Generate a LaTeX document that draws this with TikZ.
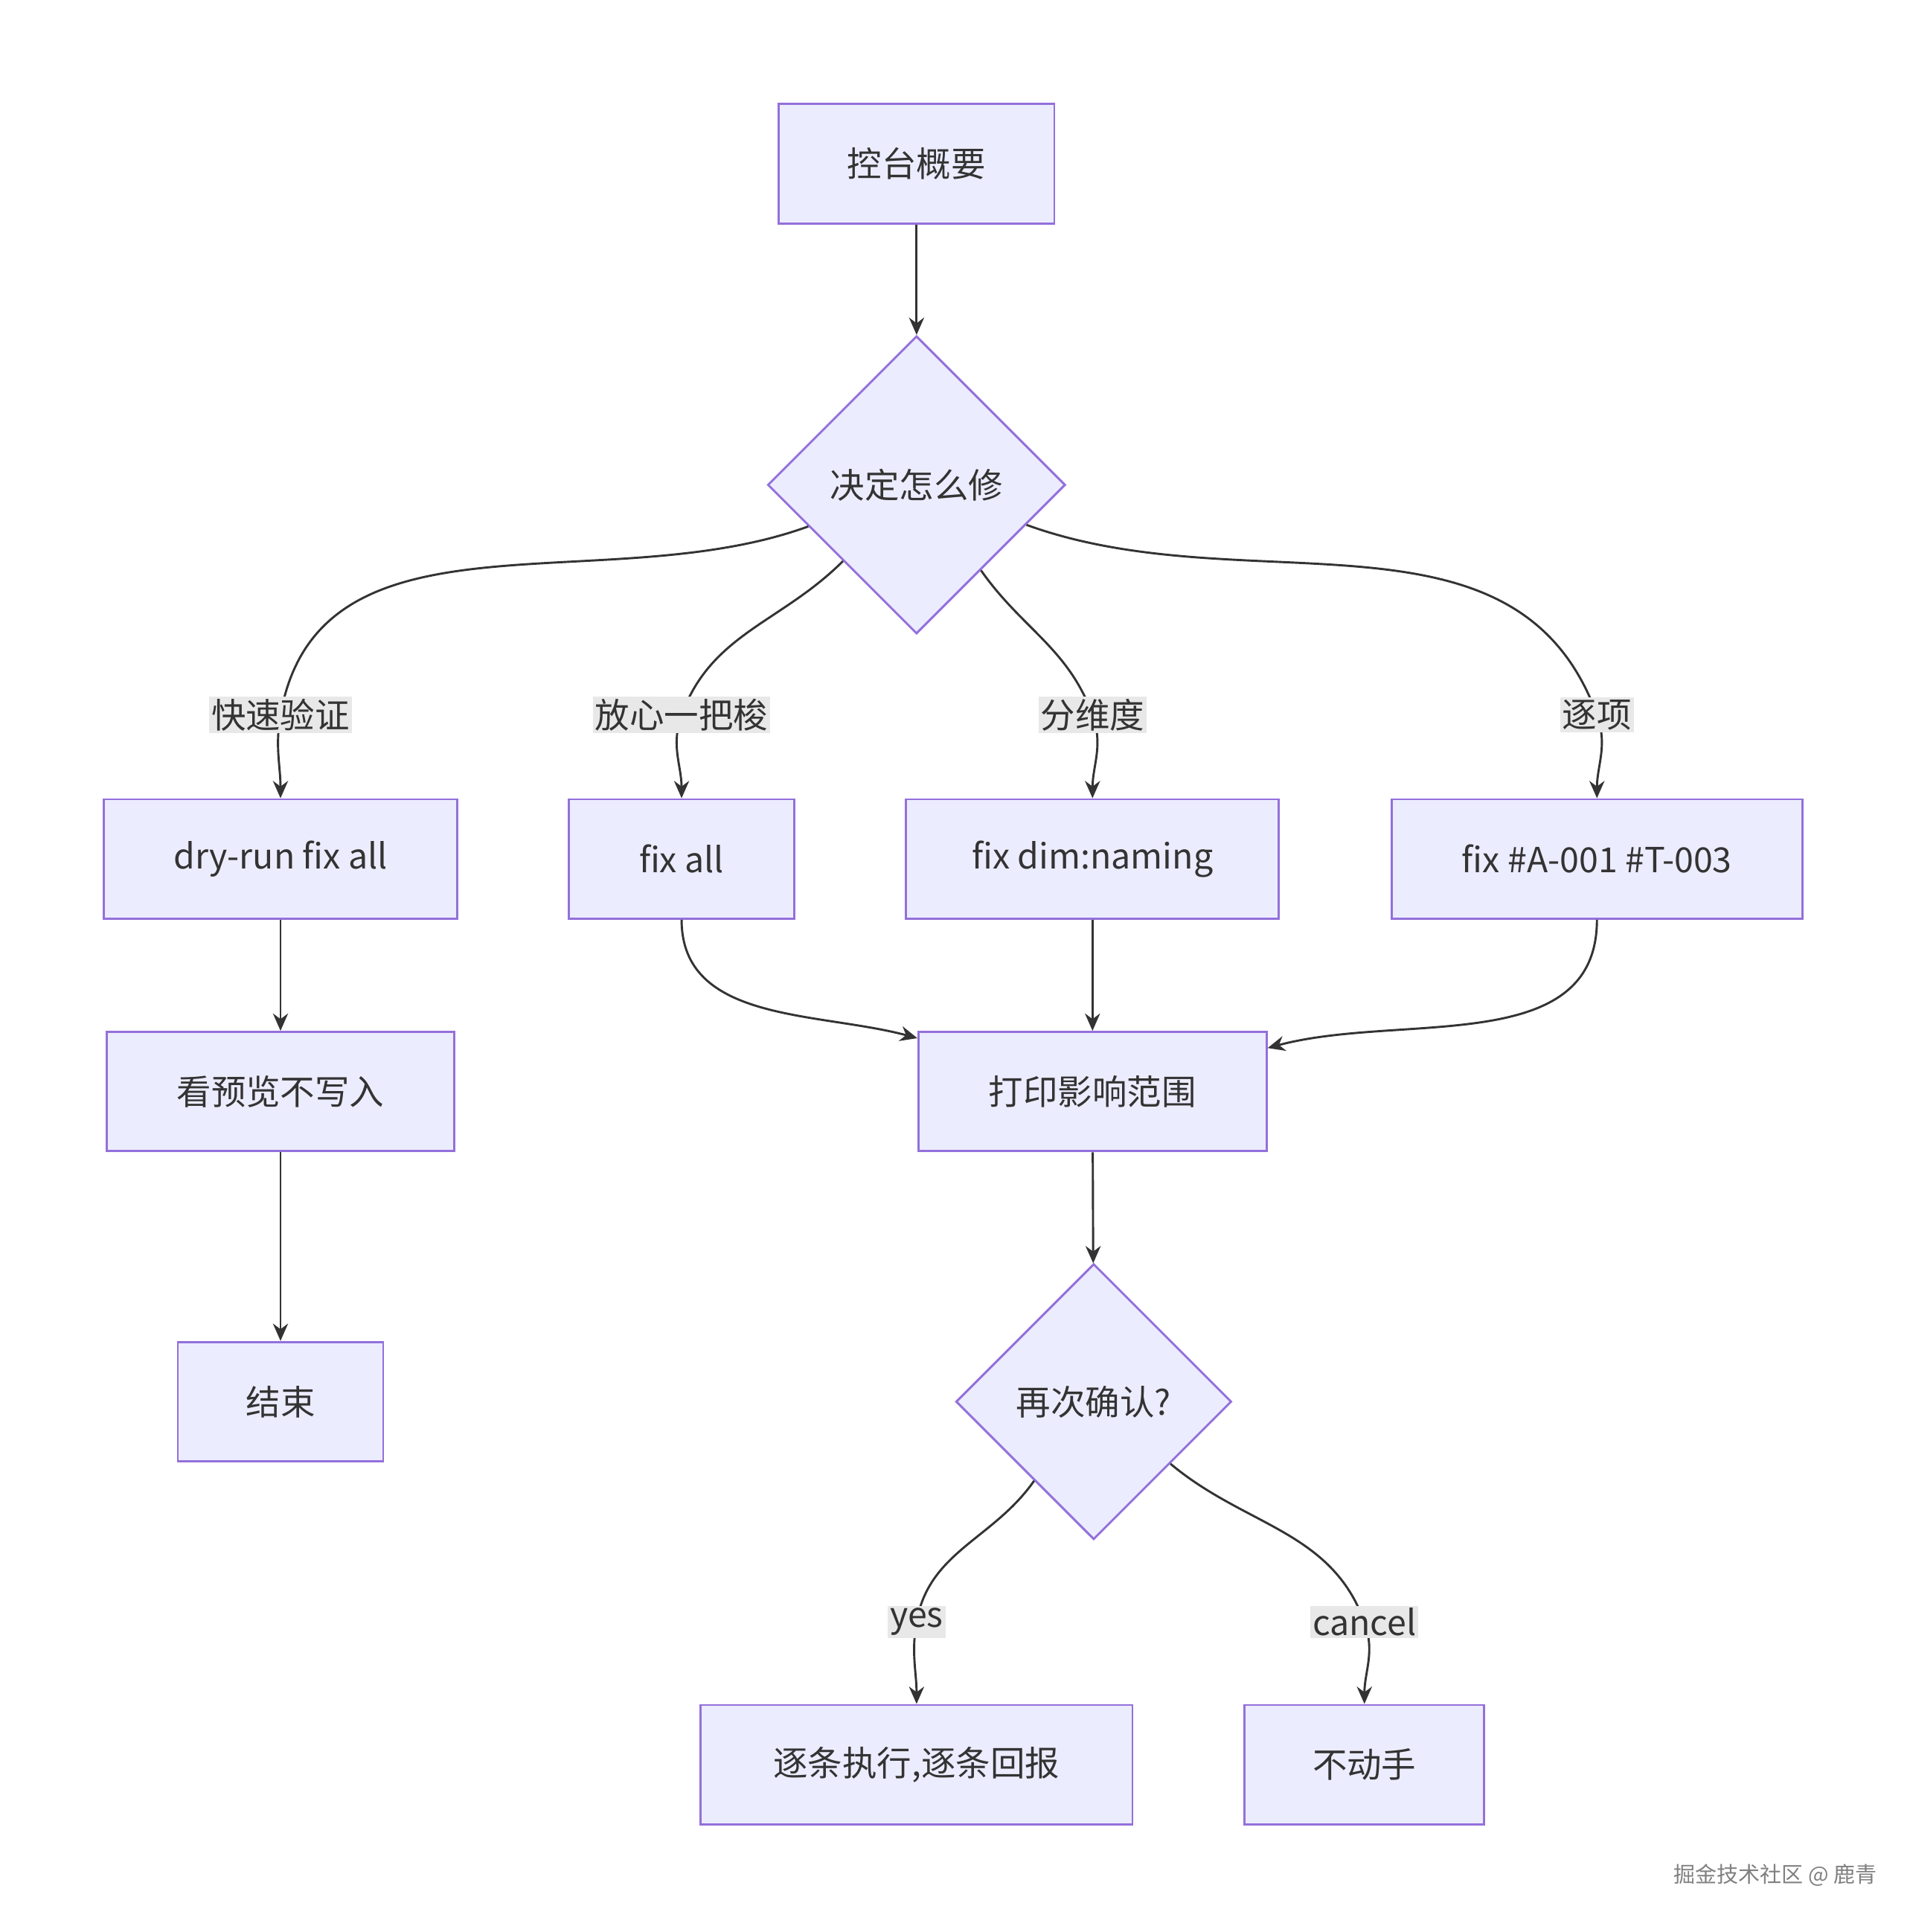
\documentclass[tikz,border=0pt]{standalone}
\usepackage{fontspec}
\setmainfont{Noto Sans CJK SC}
\usetikzlibrary{shapes.geometric,arrows.meta,positioning}
\definecolor{boxfill}{HTML}{ECECFF}
\definecolor{boxdraw}{HTML}{9370DB}
\definecolor{linecol}{HTML}{333333}
\definecolor{lblfill}{HTML}{E8E8E8}

\begin{document}
\begin{tikzpicture}[
    x=0.02cm, y=-0.02cm,
    font=\fontsize{16}{19}\selectfont,
    box/.style={rectangle, draw=boxdraw, fill=boxfill, line width=1pt, minimum height=1.94cm, text=linecol},
    choice/.style={diamond, draw=boxdraw, fill=boxfill, line width=1pt, aspect=1, inner sep=0pt, text=linecol},
    lbl/.style={fill=lblfill, inner sep=1pt, text=linecol},
    line/.style={draw=linecol, line width=1pt, -{Stealth[length=8pt,width=7pt]}}
]
    \useasboundingbox (0,0) rectangle (1552,1570);
    \node[box, minimum width=4.48cm] (start) at (745,133) {控台概要};
    \node[choice, minimum size=4.84cm] (decide) at (745,394) {决定怎么修};
    \node[box, minimum width=5.74cm] (dryrun) at (228,698) {dry-run fix all};
    \node[box, minimum width=3.66cm] (fixall) at (554,698) {fix all};
    \node[box, minimum width=6.06cm] (fixdim) at (888,698) {fix dim:naming};
    \node[box, minimum width=6.68cm] (fixitem) at (1298,698) {fix \#A-001 \#T-003};
    \node[box, minimum width=5.66cm] (preview) at (228,887) {看预览不写入};
    \node[box, minimum width=5.66cm] (scope) at (888,887) {打印影响范围};
    \node[box, minimum width=3.34cm] (finish) at (228,1139) {结束};
    \node[choice, minimum size=4.48cm] (confirm) at (889,1139) {再次确认?};
    \node[box, minimum width=7.02cm] (run) at (745,1434) {逐条执行,逐条回报};
    \node[box, minimum width=3.9cm] (abort) at (1109,1434) {不动手};

    \coordinate (quick) at (228,581);
    \coordinate (bold) at (554,581);
    \coordinate (dims) at (888,581);
    \coordinate (each) at (1298,581);
    \coordinate (yes) at (745,1318);
    \coordinate (cancel) at (1109,1318);

    \draw[line] (start) -- (decide);
    \draw[line] (decide.201) to[out=200,in=80] (quick) to[out=-100,in=90] (dryrun.north);
    \draw[line] (decide.226) to[out=225,in=70] (bold) to[out=-110,in=90] (fixall.north);
    \draw[line] (decide.307) to[out=-55,in=110] (dims) to[out=-70,in=90] (fixdim.north);
    \draw[line] (decide.340) to[out=-20,in=110] (each) to[out=-70,in=90] (fixitem.north);
    \draw[line] (dryrun) -- (preview);
    \draw[line] (preview) -- (finish);
    \draw[line] (fixall.south) to[out=-90,in=165] ([yshift=-0.12cm]scope.north west);
    \draw[line] (fixdim) -- (scope);
    \draw[line] (fixitem.south) to[out=-90,in=15] ([yshift=-0.28cm]scope.north east);
    \draw[line] (scope) -- (confirm);
    \draw[line] (confirm.233) to[out=235,in=80] (yes) to[out=-100,in=90] (run.north);
    \draw[line] (confirm.321) to[out=-40,in=110] (cancel) to[out=-70,in=90] (abort.north);

    \node[lbl] at (quick) {快速验证};
    \node[lbl] at (bold) {放心一把梭};
    \node[lbl] at (dims) {分维度};
    \node[lbl] at (each) {逐项};
    \node[lbl] at (yes) {yes};
    \node[lbl] at (cancel) {cancel};

    \node[font=\fontsize{10}{12}\selectfont, text=gray] (mark) at (1443,1524) {掘金技术社区 @ 鹿青};
\end{tikzpicture}
\end{document}
